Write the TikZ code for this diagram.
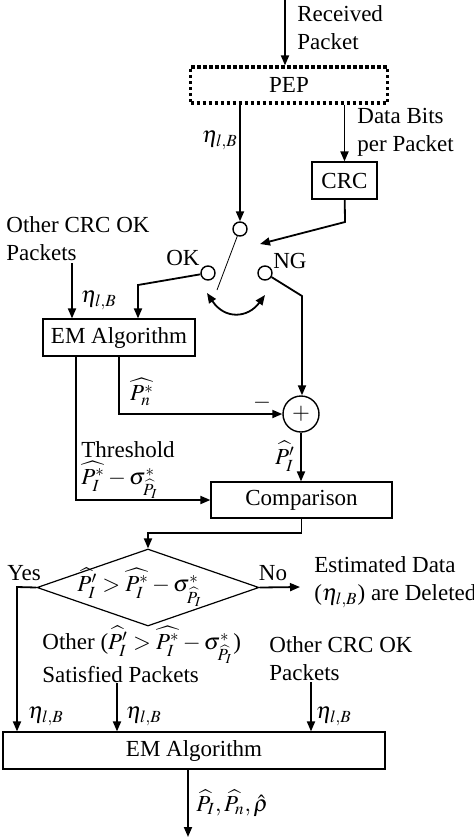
\documentclass[tikz,border=0pt]{standalone}
\usepackage{mathptmx}
\usepackage{fontspec}
\setmainfont{Liberation Serif}
\usetikzlibrary{arrows.meta,shapes.geometric}
\tikzset{
  base/.style={font=\fontsize{11.5}{14}\selectfont},
  box/.style={draw, line width=0.6pt, inner sep=0pt, base},
  arr/.style={line width=0.9pt, -{Triangle[length=5pt,width=4pt]}},
  ln/.style={line width=0.9pt},
  sw/.style={circle, draw, line width=0.7pt, minimum size=7pt, inner sep=0pt},
  lbl/.style={base, inner sep=0pt},
  lbll/.style={base, inner sep=0pt, align=left, anchor=west},
}
\begin{document}
\begin{tikzpicture}[x=0.5pt,y=-0.5pt]
\useasboundingbox (0,0) rectangle (474,837);
% nodes
\node[box, dash pattern=on 1.6pt off 1.4pt, line width=1.6pt, minimum width=98.5pt, minimum height=18pt] (pep) at (289,85) {PEP};
\node[box, minimum width=32.5pt, minimum height=18.5pt] (crc) at (344.5,180.5) {CRC};
\node[sw] (swt) at (240,229) {};
\node[sw] (ok) at (208,273) {};
\node[sw] (ng) at (265,273) {};
\node[box, minimum width=76pt, minimum height=18.5pt] (em1) at (119,337.5) {EM Algorithm};
\node[circle, draw, line width=0.7pt, minimum size=18pt, inner sep=0pt, base] (plus) at (301,414) {$+$};
\node[box, minimum width=90.5pt, minimum height=18pt] (cmp) at (301.5,500) {Comparison};
\node[diamond, draw, line width=0.6pt, minimum width=111pt, minimum height=38.5pt, inner sep=0pt] (dia) at (148,587.5) {};
\node[lbl] (diat) at (140,587) {$\widehat{P'_I} > \widehat{P_I^{*}} - \sigma^{*}_{\widehat{P_I}}$};
\node[box, minimum width=191pt, minimum height=18.5pt] (em2) at (194,750.5) {EM Algorithm};

% coordinates
\coordinate (in) at (285,0);
\coordinate (cb) at (345,222);
\coordinate (sa) at (260,244);
\coordinate (arm) at (217,290);
\coordinate (ca) at (207,293);
\coordinate (cz) at (265,295);
\coordinate (okb) at (138,285);
\coordinate (ngb) at (302,296);
\coordinate (oc1) at (72,263);
\coordinate (e1b) at (119,414);
\coordinate (e1t) at (76,500);
\coordinate (cd) at (148,533);
\coordinate (yb) at (17,587);
\coordinate (noend) at (300,587);
\coordinate (os1) at (117,683);
\coordinate (os2) at (311,682);
\coordinate (out) at (188,837);

% connectors
\draw[arr] (in) -- (in |- pep.north);
\draw[arr] (pep.south -| swt) -- (swt);
\draw[arr] (pep.south -| crc) -- (crc);
\draw[arr] (crc) -- (cb) -- (sa);
\draw[line width=0.4pt] (swt) -- (arm);
\draw[line width=0.9pt, {Triangle[length=5pt,width=4pt]}-{Triangle[length=5pt,width=4pt]}] (ca) .. controls (225,320) and (248,318) .. (cz);
\draw[arr] (ok) -- (okb) -- (okb |- em1.north);
\draw[arr] (oc1) -- (oc1 |- em1.north);
\draw[arr] (ng) -- (ngb) -- (ngb |- plus.north);
\draw[arr] (e1b |- em1.south) -- (e1b) -- (plus);
\draw[arr] (plus) -- (plus |- cmp.north);
\draw[arr] (e1t |- em1.south) -- (e1t) -- (cmp.west |- e1t);
\draw[arr] (cmp.south) -- (cmp.south |- cd) -- (cd) -- (dia.north);
\draw[arr] (dia.west) -- (yb) -- (yb |- em2.north);
\draw[arr] (dia.east) -- (noend);
\draw[arr] (os1) -- (os1 |- em2.north);
\draw[arr] (os2) -- (os2 |- em2.north);
\draw[arr] (em2.south -| out) -- (out);

% labels
\node[lbll] (t1) at (297,28) {Received\\Packet};
\node[lbl] (t2) at (220,140) {$\eta_{l,B}$};
\node[lbll] (t3) at (357,132) {Data Bits\\per Packet};
\node[lbl] (t4) at (183,258) {OK};
\node[lbl] (t5) at (290,261) {NG};
\node[lbll] (t6) at (6,239) {Other CRC OK\\Packets};
\node[lbl] (t7) at (99,300) {$\eta_{l,B}$};
\node[lbl] (t8) at (142,392) {$\widehat{P_n^{*}}$};
\node[lbl] (t9) at (262,403) {$-$};
\node[lbl] (t10) at (285,456) {$\widehat{P'_I}$};
\node[lbll] (t11) at (81,450) {Threshold};
\node[lbll] (t12) at (81,480) {$\widehat{P_I^{*}} - \sigma^{*}_{\widehat{P_I}}$};
\node[lbl] (t13) at (24,573) {Yes};
\node[lbl] (t14) at (273,573) {No};
\node[lbll] (t15) at (314,582) {Estimated Data\\($\eta_{l,B}$) are Deleted};
\node[lbll] (t16) at (42,654) {Other ($\widehat{P'_I} > \widehat{P_I^{*}} - \sigma^{*}_{\widehat{P_I}}$)\\Satisfied Packets};
\node[lbll] (t17) at (269,659) {Other CRC OK\\Packets};
\node[lbl] (t18) at (46,716) {$\eta_{l,B}$};
\node[lbl] (t19) at (144,716) {$\eta_{l,B}$};
\node[lbl] (t20) at (334,716) {$\eta_{l,B}$};
\node[lbll] (t21) at (196,803) {$\widehat{P_I}, \widehat{P_n}, \hat{\rho}$};
\end{tikzpicture}
\end{document}
